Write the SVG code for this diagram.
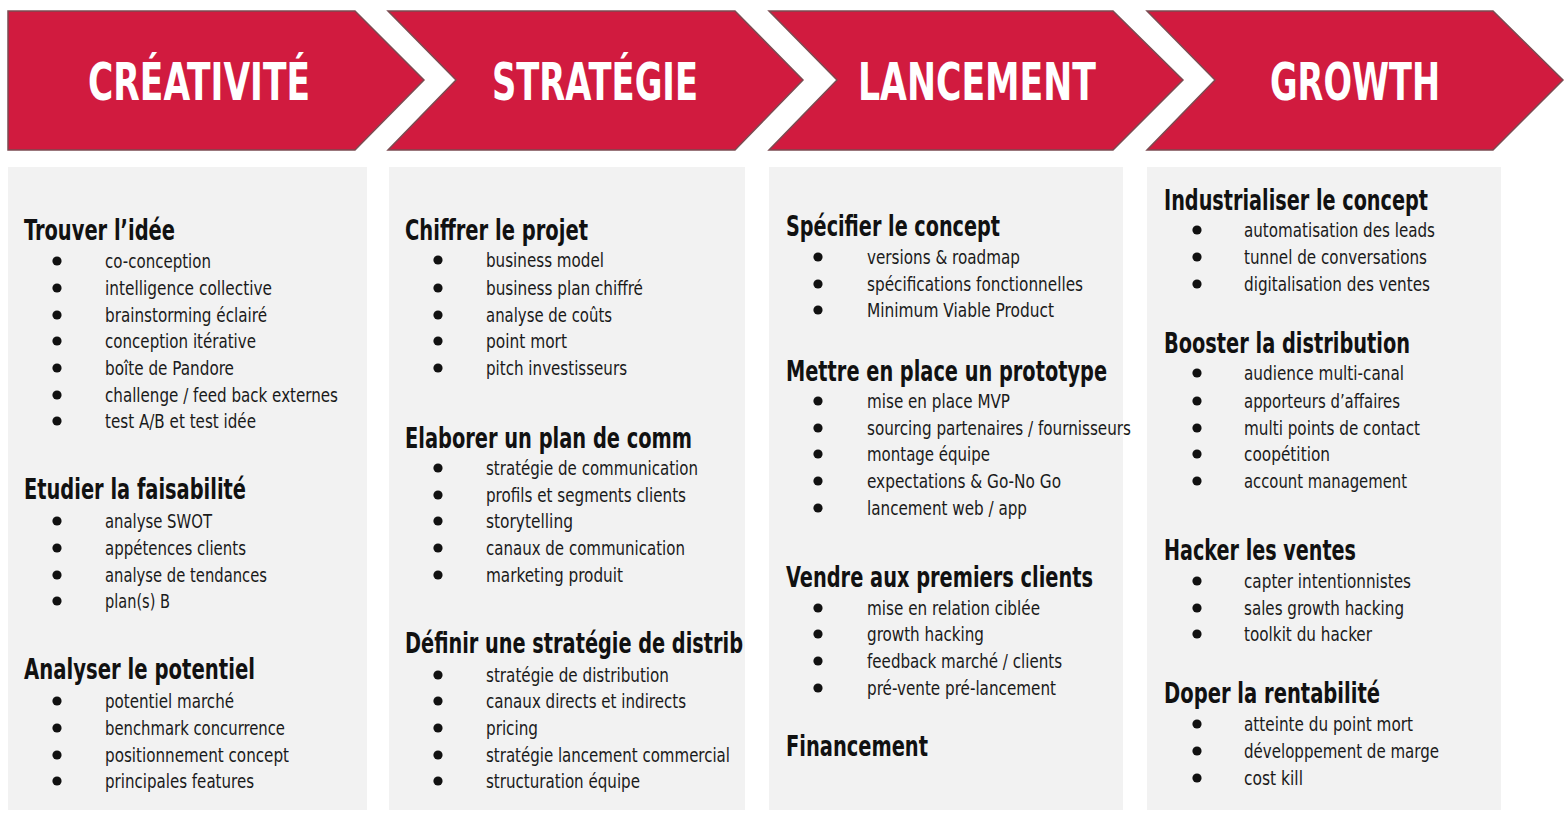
<svg xmlns="http://www.w3.org/2000/svg" width="1567" height="828" viewBox="0 0 1567 828">
<style>
text{font-family:"Liberation Sans Narrow","DejaVu Sans Condensed","Liberation Sans",sans-serif}
.chev{fill:#D11B3F;stroke:#7B4B51;stroke-width:1.5}
.panel{fill:#F2F2F2}
.title{font-size:52px;font-weight:bold;fill:#FFFFFF;text-anchor:middle}
.h{font-size:29px;font-weight:bold;fill:#111111}
.i{font-size:19px;fill:#1A1A1A}
.b{fill:#111111}
</style>
<rect width="1567" height="828" fill="#FFFFFF"/>
<g id="connectors"></g>

<g id="phase-creativite">
<path class="chev" d="M8,11 L355,11 L424,80 L355,150 L8,150 Z"/>
<text class="title" x="199" y="100" textLength="222" lengthAdjust="spacingAndGlyphs">CRÉATIVITÉ</text>
</g>
<g id="phase-strategie">
<path class="chev" d="M388,11 L735,11 L803,80 L735,150 L388,150 L456,80 Z"/>
<text class="title" x="595" y="100" textLength="206" lengthAdjust="spacingAndGlyphs">STRATÉGIE</text>
</g>
<g id="phase-lancement">
<path class="chev" d="M769,11 L1113,11 L1183,80 L1113,150 L769,150 L837,80 Z"/>
<text class="title" x="977" y="100" textLength="238" lengthAdjust="spacingAndGlyphs">LANCEMENT</text>
</g>
<g id="phase-growth">
<path class="chev" d="M1147,11 L1493,11 L1563,80 L1493,150 L1147,150 L1215,80 Z"/>
<text class="title" x="1355" y="100" textLength="170" lengthAdjust="spacingAndGlyphs">GROWTH</text>
</g>

<g id="panel-creativite">
<rect class="panel" x="8" y="167" width="359" height="643"/>
<g id="s-trouver">
<text class="h" x="24" y="240" textLength="151" lengthAdjust="spacingAndGlyphs">Trouver l’idée</text>
<circle class="b" cx="57" cy="261" r="4.6"/><text class="i" x="105" y="268" textLength="106" lengthAdjust="spacingAndGlyphs">co-conception</text>
<circle class="b" cx="57" cy="288" r="4.6"/><text class="i" x="105" y="295" textLength="167" lengthAdjust="spacingAndGlyphs">intelligence collective</text>
<circle class="b" cx="57" cy="315" r="4.6"/><text class="i" x="105" y="322" textLength="162" lengthAdjust="spacingAndGlyphs">brainstorming éclairé</text>
<circle class="b" cx="57" cy="341" r="4.6"/><text class="i" x="105" y="348" textLength="151" lengthAdjust="spacingAndGlyphs">conception itérative</text>
<circle class="b" cx="57" cy="368" r="4.6"/><text class="i" x="105" y="375" textLength="129" lengthAdjust="spacingAndGlyphs">boîte de Pandore</text>
<circle class="b" cx="57" cy="395" r="4.6"/><text class="i" x="105" y="402" textLength="233" lengthAdjust="spacingAndGlyphs">challenge / feed back externes</text>
<circle class="b" cx="57" cy="421" r="4.6"/><text class="i" x="105" y="428" textLength="151" lengthAdjust="spacingAndGlyphs">test A/B et test idée</text>
</g>
<g id="s-etudier">
<text class="h" x="24" y="499" textLength="222" lengthAdjust="spacingAndGlyphs">Etudier la faisabilité</text>
<circle class="b" cx="57" cy="521" r="4.6"/><text class="i" x="105" y="528" textLength="107" lengthAdjust="spacingAndGlyphs">analyse SWOT</text>
<circle class="b" cx="57" cy="548" r="4.6"/><text class="i" x="105" y="555" textLength="141" lengthAdjust="spacingAndGlyphs">appétences clients</text>
<circle class="b" cx="57" cy="575" r="4.6"/><text class="i" x="105" y="582" textLength="162" lengthAdjust="spacingAndGlyphs">analyse de tendances</text>
<circle class="b" cx="57" cy="601" r="4.6"/><text class="i" x="105" y="608" textLength="65" lengthAdjust="spacingAndGlyphs">plan(s) B</text>
</g>
<g id="s-analyser">
<text class="h" x="24" y="679" textLength="231" lengthAdjust="spacingAndGlyphs">Analyser le potentiel</text>
<circle class="b" cx="57" cy="701" r="4.6"/><text class="i" x="105" y="708" textLength="129" lengthAdjust="spacingAndGlyphs">potentiel marché</text>
<circle class="b" cx="57" cy="728" r="4.6"/><text class="i" x="105" y="735" textLength="180" lengthAdjust="spacingAndGlyphs">benchmark concurrence</text>
<circle class="b" cx="57" cy="755" r="4.6"/><text class="i" x="105" y="762" textLength="184" lengthAdjust="spacingAndGlyphs">positionnement concept</text>
<circle class="b" cx="57" cy="781" r="4.6"/><text class="i" x="105" y="788" textLength="149" lengthAdjust="spacingAndGlyphs">principales features</text>
</g>
</g>

<g id="panel-strategie">
<rect class="panel" x="389" y="167" width="356" height="643"/>
<g id="s-chiffrer">
<text class="h" x="405" y="240" textLength="183" lengthAdjust="spacingAndGlyphs">Chiffrer le projet</text>
<circle class="b" cx="438" cy="260" r="4.6"/><text class="i" x="486" y="267" textLength="118" lengthAdjust="spacingAndGlyphs">business model</text>
<circle class="b" cx="438" cy="288" r="4.6"/><text class="i" x="486" y="295" textLength="157" lengthAdjust="spacingAndGlyphs">business plan chiffré</text>
<circle class="b" cx="438" cy="315" r="4.6"/><text class="i" x="486" y="322" textLength="126" lengthAdjust="spacingAndGlyphs">analyse de coûts</text>
<circle class="b" cx="438" cy="341" r="4.6"/><text class="i" x="486" y="348" textLength="81" lengthAdjust="spacingAndGlyphs">point mort</text>
<circle class="b" cx="438" cy="368" r="4.6"/><text class="i" x="486" y="375" textLength="141" lengthAdjust="spacingAndGlyphs">pitch investisseurs</text>
</g>
<g id="s-elaborer">
<text class="h" x="405" y="448" textLength="287" lengthAdjust="spacingAndGlyphs">Elaborer un plan de comm</text>
<circle class="b" cx="438" cy="468" r="4.6"/><text class="i" x="486" y="475" textLength="212" lengthAdjust="spacingAndGlyphs">stratégie de communication</text>
<circle class="b" cx="438" cy="495" r="4.6"/><text class="i" x="486" y="502" textLength="200" lengthAdjust="spacingAndGlyphs">profils et segments clients</text>
<circle class="b" cx="438" cy="521" r="4.6"/><text class="i" x="486" y="528" textLength="87" lengthAdjust="spacingAndGlyphs">storytelling</text>
<circle class="b" cx="438" cy="548" r="4.6"/><text class="i" x="486" y="555" textLength="199" lengthAdjust="spacingAndGlyphs">canaux de communication</text>
<circle class="b" cx="438" cy="575" r="4.6"/><text class="i" x="486" y="582" textLength="137" lengthAdjust="spacingAndGlyphs">marketing produit</text>
</g>
<g id="s-definir">
<text class="h" x="405" y="653" textLength="338" lengthAdjust="spacingAndGlyphs">Définir une stratégie de distrib</text>
<circle class="b" cx="438" cy="675" r="4.6"/><text class="i" x="486" y="682" textLength="183" lengthAdjust="spacingAndGlyphs">stratégie de distribution</text>
<circle class="b" cx="438" cy="701" r="4.6"/><text class="i" x="486" y="708" textLength="200" lengthAdjust="spacingAndGlyphs">canaux directs et indirects</text>
<circle class="b" cx="438" cy="728" r="4.6"/><text class="i" x="486" y="735" textLength="52" lengthAdjust="spacingAndGlyphs">pricing</text>
<circle class="b" cx="438" cy="755" r="4.6"/><text class="i" x="486" y="762" textLength="244" lengthAdjust="spacingAndGlyphs">stratégie lancement commercial</text>
<circle class="b" cx="438" cy="781" r="4.6"/><text class="i" x="486" y="788" textLength="154" lengthAdjust="spacingAndGlyphs">structuration équipe</text>
</g>
</g>

<g id="panel-lancement">
<rect class="panel" x="769" y="167" width="354" height="643"/>
<g id="s-specifier">
<text class="h" x="786" y="236" textLength="214" lengthAdjust="spacingAndGlyphs">Spécifier le concept</text>
<circle class="b" cx="818" cy="257" r="4.6"/><text class="i" x="867" y="264" textLength="153" lengthAdjust="spacingAndGlyphs">versions &amp; roadmap</text>
<circle class="b" cx="818" cy="284" r="4.6"/><text class="i" x="867" y="291" textLength="216" lengthAdjust="spacingAndGlyphs">spécifications fonctionnelles</text>
<circle class="b" cx="818" cy="310" r="4.6"/><text class="i" x="867" y="317" textLength="187" lengthAdjust="spacingAndGlyphs">Minimum Viable Product</text>
</g>
<g id="s-mettre">
<text class="h" x="786" y="381" textLength="321" lengthAdjust="spacingAndGlyphs">Mettre en place un prototype</text>
<circle class="b" cx="818" cy="401" r="4.6"/><text class="i" x="867" y="408" textLength="143" lengthAdjust="spacingAndGlyphs">mise en place MVP</text>
<circle class="b" cx="818" cy="428" r="4.6"/><text class="i" x="867" y="435" textLength="264" lengthAdjust="spacingAndGlyphs">sourcing partenaires / fournisseurs</text>
<circle class="b" cx="818" cy="454" r="4.6"/><text class="i" x="867" y="461" textLength="123" lengthAdjust="spacingAndGlyphs">montage équipe</text>
<circle class="b" cx="818" cy="481" r="4.6"/><text class="i" x="867" y="488" textLength="194" lengthAdjust="spacingAndGlyphs">expectations &amp; Go-No Go</text>
<circle class="b" cx="818" cy="508" r="4.6"/><text class="i" x="867" y="515" textLength="160" lengthAdjust="spacingAndGlyphs">lancement web / app</text>
</g>
<g id="s-vendre">
<text class="h" x="786" y="587" textLength="307" lengthAdjust="spacingAndGlyphs">Vendre aux premiers clients</text>
<circle class="b" cx="818" cy="608" r="4.6"/><text class="i" x="867" y="615" textLength="173" lengthAdjust="spacingAndGlyphs">mise en relation ciblée</text>
<circle class="b" cx="818" cy="634" r="4.6"/><text class="i" x="867" y="641" textLength="117" lengthAdjust="spacingAndGlyphs">growth hacking</text>
<circle class="b" cx="818" cy="661" r="4.6"/><text class="i" x="867" y="668" textLength="195" lengthAdjust="spacingAndGlyphs">feedback marché / clients</text>
<circle class="b" cx="818" cy="688" r="4.6"/><text class="i" x="867" y="695" textLength="189" lengthAdjust="spacingAndGlyphs">pré-vente pré-lancement</text>
</g>
<g id="s-financement">
<text class="h" x="786" y="756" textLength="142" lengthAdjust="spacingAndGlyphs">Financement</text>
</g>
</g>

<g id="panel-growth">
<rect class="panel" x="1147" y="167" width="354" height="643"/>
<g id="s-industrialiser">
<text class="h" x="1164" y="210" textLength="264" lengthAdjust="spacingAndGlyphs">Industrialiser le concept</text>
<circle class="b" cx="1197" cy="230" r="4.6"/><text class="i" x="1244" y="237" textLength="191" lengthAdjust="spacingAndGlyphs">automatisation des leads</text>
<circle class="b" cx="1197" cy="257" r="4.6"/><text class="i" x="1244" y="264" textLength="183" lengthAdjust="spacingAndGlyphs">tunnel de conversations</text>
<circle class="b" cx="1197" cy="284" r="4.6"/><text class="i" x="1244" y="291" textLength="186" lengthAdjust="spacingAndGlyphs">digitalisation des ventes</text>
</g>
<g id="s-booster">
<text class="h" x="1164" y="353" textLength="246" lengthAdjust="spacingAndGlyphs">Booster la distribution</text>
<circle class="b" cx="1197" cy="373" r="4.6"/><text class="i" x="1244" y="380" textLength="160" lengthAdjust="spacingAndGlyphs">audience multi-canal</text>
<circle class="b" cx="1197" cy="401" r="4.6"/><text class="i" x="1244" y="408" textLength="156" lengthAdjust="spacingAndGlyphs">apporteurs d’affaires</text>
<circle class="b" cx="1197" cy="428" r="4.6"/><text class="i" x="1244" y="435" textLength="176" lengthAdjust="spacingAndGlyphs">multi points de contact</text>
<circle class="b" cx="1197" cy="454" r="4.6"/><text class="i" x="1244" y="461" textLength="86" lengthAdjust="spacingAndGlyphs">coopétition</text>
<circle class="b" cx="1197" cy="481" r="4.6"/><text class="i" x="1244" y="488" textLength="163" lengthAdjust="spacingAndGlyphs">account management</text>
</g>
<g id="s-hacker">
<text class="h" x="1164" y="560" textLength="192" lengthAdjust="spacingAndGlyphs">Hacker les ventes</text>
<circle class="b" cx="1197" cy="581" r="4.6"/><text class="i" x="1244" y="588" textLength="167" lengthAdjust="spacingAndGlyphs">capter intentionnistes</text>
<circle class="b" cx="1197" cy="608" r="4.6"/><text class="i" x="1244" y="615" textLength="160" lengthAdjust="spacingAndGlyphs">sales growth hacking</text>
<circle class="b" cx="1197" cy="634" r="4.6"/><text class="i" x="1244" y="641" textLength="128" lengthAdjust="spacingAndGlyphs">toolkit du hacker</text>
</g>
<g id="s-doper">
<text class="h" x="1164" y="703" textLength="216" lengthAdjust="spacingAndGlyphs">Doper la rentabilité</text>
<circle class="b" cx="1197" cy="724" r="4.6"/><text class="i" x="1244" y="731" textLength="169" lengthAdjust="spacingAndGlyphs">atteinte du point mort</text>
<circle class="b" cx="1197" cy="751" r="4.6"/><text class="i" x="1244" y="758" textLength="195" lengthAdjust="spacingAndGlyphs">développement de marge</text>
<circle class="b" cx="1197" cy="778" r="4.6"/><text class="i" x="1244" y="785" textLength="59" lengthAdjust="spacingAndGlyphs">cost kill</text>
</g>
</g>
</svg>
